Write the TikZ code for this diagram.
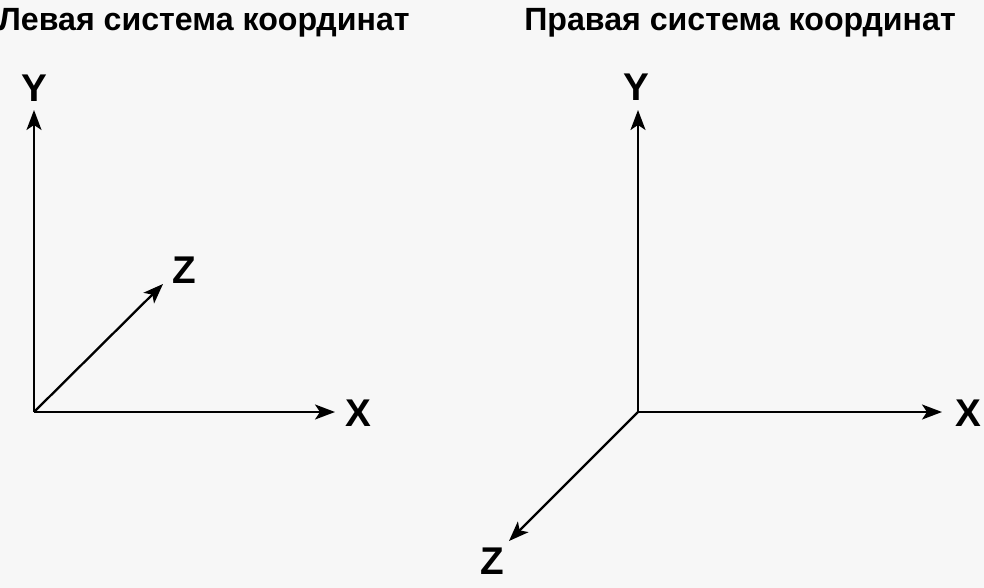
\documentclass[tikz,border=0pt]{standalone}
\usepackage{fontspec}
\setmainfont{Liberation Sans}
\usetikzlibrary{arrows.meta,positioning}

\begin{document}
\begin{tikzpicture}[
    x=0.02cm, y=-0.02cm,
    title/.style={font=\bfseries\fontsize{18.3}{21}\selectfont, inner sep=0pt, anchor=base},
    axlabel/.style={font=\bfseries\fontsize{22}{24}\selectfont, inner sep=0pt},
    axis/.style={-{Stealth[length=4mm, width=3mm, inset=1mm]}, line width=1.3pt}
]
    % background and size
    \fill[black!3] (0,0) rectangle (984,588);
    \useasboundingbox (0,0) rectangle (984,588);

    % left-handed system
    \node [title] (ltitle) at (204,31) {Левая система координат};
    \coordinate (lo) at (34,412);
    \coordinate (lx) at (335,412);
    \coordinate (ly) at (34,110);
    \coordinate (lz) at (163,284);
    \node [axlabel] (lxl) at (358,413) {X};
    \node [axlabel] (lyl) at (34,88) {Y};
    \node [axlabel] (lzl) at (184,270) {Z};
    \draw [axis] (lo) -- (lx);
    \draw [axis] (lo) -- (ly);
    \draw [axis] (lo) -- (lz);

    % right-handed system
    \node [title] (rtitle) at (740,31) {Правая система координат};
    \coordinate (ro) at (638,412);
    \coordinate (rx) at (942,412);
    \coordinate (ry) at (638,110);
    \coordinate (rz) at (509,541);
    \node [axlabel] (rxl) at (968,413) {X};
    \node [axlabel] (ryl) at (636,87) {Y};
    \node [axlabel] (rzl) at (492,561) {Z};
    \draw [axis] (ro) -- (rx);
    \draw [axis] (ro) -- (ry);
    \draw [axis] (ro) -- (rz);
\end{tikzpicture}
\end{document}
